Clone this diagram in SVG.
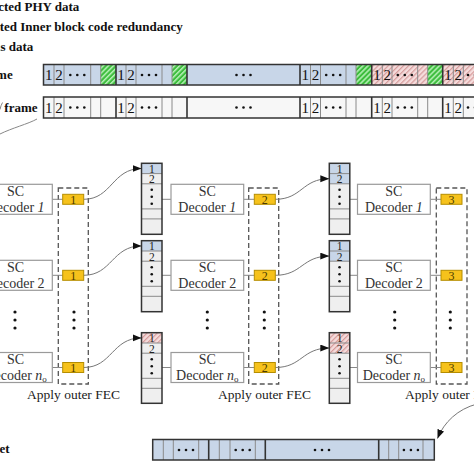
<svg xmlns="http://www.w3.org/2000/svg" width="474" height="474" viewBox="0 0 474 474">
<defs>
<pattern id="hg" patternUnits="userSpaceOnUse" width="3.6" height="3.6" patternTransform="rotate(45)"><rect width="3.6" height="3.6" fill="#3cbd3c"/><rect width="1.5" height="3.6" fill="#b8f0b8"/></pattern>
<pattern id="hr" patternUnits="userSpaceOnUse" width="3.6" height="3.6" patternTransform="rotate(45)"><rect width="3.6" height="3.6" fill="#f5dcdc"/><rect width="1.2" height="3.6" fill="#d69c9c"/></pattern>
<marker id="ah" markerUnits="userSpaceOnUse" markerWidth="10" markerHeight="8" refX="9" refY="3.5" orient="auto"><path d="M0,0 L9,3.5 L0,7 z" fill="#111"/></marker>
<style>
.lg{font-family:"Liberation Serif",serif;font-weight:bold;font-size:13px;fill:#111}
.num{font-family:"Liberation Serif",serif;font-size:15px;fill:#111;text-anchor:middle}
.bn{font-family:"Liberation Serif",serif;font-size:11.5px;fill:#222;text-anchor:middle}
.dec{font-family:"Liberation Serif",serif;font-size:14px;fill:#333;text-anchor:middle}
.fec{font-family:"Liberation Serif",serif;font-size:13.5px;fill:#222;text-anchor:middle}
.yn{font-family:"Liberation Serif",serif;font-size:12px;fill:#4a3a00;text-anchor:middle}
.blue{fill:#c8d6e8}
.light{fill:#f7f7f7}
.cell{fill:#efefef}
.thin{stroke:#8a8a8a;stroke-width:1}
.thick{stroke:#333;stroke-width:1.6}
.border{fill:none;stroke:#333;stroke-width:1.5}
.box{fill:#fff;stroke:#9a9a9a;stroke-width:1.2}
.yb{fill:#f6c21c;stroke:#b58d00;stroke-width:1}
.dash{fill:none;stroke:#555;stroke-width:1.3;stroke-dasharray:5,3}
.conn{fill:none;stroke:#888;stroke-width:1}
.arr{fill:none;stroke:#777;stroke-width:1;marker-end:url(#ah)}
.dot{fill:#111}
</style>
</defs>

<g id="legend">
<text class="lg" x="79.3" y="11" text-anchor="end">cted PHY data</text>
<text class="lg" x="182.7" y="31" text-anchor="end">cted Inner block code redundancy</text>
<text class="lg" x="33.3" y="51" text-anchor="end">us data</text>
</g>

<g id="labels">
<text class="lg" x="12.7" y="79" text-anchor="end">me</text>
<text class="lg" x="37.5" y="111.5" text-anchor="end">frame</text>
<text class="lg" x="9.5" y="453" text-anchor="end">et</text>
</g>

<g id="top-bar">
<rect class="blue" x="43.5" y="64.5" width="440" height="20.5"/>
<rect fill="url(#hg)" x="100.7" y="64.5" width="15.3" height="20.5"/>
<rect fill="url(#hg)" x="172" y="64.5" width="15" height="20.5"/>
<rect fill="url(#hg)" x="356" y="64.5" width="15.7" height="20.5"/>
<rect fill="url(#hr)" x="371.7" y="64.5" width="56" height="20.5"/>
<rect fill="url(#hg)" x="427.7" y="64.5" width="15" height="20.5"/>
<rect fill="url(#hr)" x="442.7" y="64.5" width="41" height="20.5"/>
<g class="thin">
<line x1="54" y1="64.5" x2="54" y2="85"/><line x1="64" y1="64.5" x2="64" y2="85"/><line x1="90.7" y1="64.5" x2="90.7" y2="85"/><line x1="100.7" y1="64.5" x2="100.7" y2="85"/>
<line x1="126" y1="64.5" x2="126" y2="85"/><line x1="136" y1="64.5" x2="136" y2="85"/><line x1="162" y1="64.5" x2="162" y2="85"/><line x1="172" y1="64.5" x2="172" y2="85"/>
<line x1="310.5" y1="64.5" x2="310.5" y2="85"/><line x1="320.5" y1="64.5" x2="320.5" y2="85"/><line x1="346" y1="64.5" x2="346" y2="85"/><line x1="356" y1="64.5" x2="356" y2="85"/>
<line x1="382.3" y1="64.5" x2="382.3" y2="85"/><line x1="392" y1="64.5" x2="392" y2="85"/><line x1="417.7" y1="64.5" x2="417.7" y2="85"/><line x1="427.7" y1="64.5" x2="427.7" y2="85"/>
<line x1="453.3" y1="64.5" x2="453.3" y2="85"/><line x1="463.3" y1="64.5" x2="463.3" y2="85"/>
</g>
<g class="thick">
<line x1="116" y1="64.5" x2="116" y2="85"/><line x1="187" y1="64.5" x2="187" y2="85"/><line x1="300" y1="64.5" x2="300" y2="85"/><line x1="371.7" y1="64.5" x2="371.7" y2="85"/><line x1="442.7" y1="64.5" x2="442.7" y2="85"/>
</g>
<rect class="border" x="43.5" y="64.5" width="440" height="20.5"/>
<text class="num" x="48.8" y="80">1</text><text class="num" x="59" y="80">2</text>
<text class="num" x="121" y="80">1</text><text class="num" x="131" y="80">2</text>
<text class="num" x="305.3" y="80">1</text><text class="num" x="315.5" y="80">2</text>
<text class="num" x="377" y="80">1</text><text class="num" x="387.2" y="80">2</text>
<text class="num" x="448" y="80">1</text><text class="num" x="458.3" y="80">2</text>
<g class="dot">
<circle cx="70.3" cy="75" r="1.3"/><circle cx="77.3" cy="75" r="1.3"/><circle cx="84.3" cy="75" r="1.3"/>
<circle cx="142" cy="75" r="1.3"/><circle cx="149" cy="75" r="1.3"/><circle cx="156" cy="75" r="1.3"/>
<circle cx="236.5" cy="75" r="1.3"/><circle cx="243.5" cy="75" r="1.3"/><circle cx="250.5" cy="75" r="1.3"/>
<circle cx="326.2" cy="75" r="1.3"/><circle cx="333.2" cy="75" r="1.3"/><circle cx="340.2" cy="75" r="1.3"/>
<circle cx="397.8" cy="75" r="1.3"/><circle cx="404.8" cy="75" r="1.3"/><circle cx="411.8" cy="75" r="1.3"/>
<circle cx="468" cy="75" r="1.3"/><circle cx="475" cy="75" r="1.3"/>
</g>
</g>

<g id="second-bar">
<rect class="light" x="43.5" y="97" width="440" height="21"/>
<g class="thin">
<line x1="54" y1="97" x2="54" y2="118"/><line x1="64" y1="97" x2="64" y2="118"/><line x1="90.7" y1="97" x2="90.7" y2="118"/><line x1="100.7" y1="97" x2="100.7" y2="118"/>
<line x1="126" y1="97" x2="126" y2="118"/><line x1="136" y1="97" x2="136" y2="118"/><line x1="162" y1="97" x2="162" y2="118"/><line x1="172" y1="97" x2="172" y2="118"/>
<line x1="310.5" y1="97" x2="310.5" y2="118"/><line x1="320.5" y1="97" x2="320.5" y2="118"/><line x1="346" y1="97" x2="346" y2="118"/><line x1="356" y1="97" x2="356" y2="118"/>
<line x1="382.3" y1="97" x2="382.3" y2="118"/><line x1="392" y1="97" x2="392" y2="118"/><line x1="417.7" y1="97" x2="417.7" y2="118"/><line x1="427.7" y1="97" x2="427.7" y2="118"/>
<line x1="453.3" y1="97" x2="453.3" y2="118"/><line x1="463.3" y1="97" x2="463.3" y2="118"/>
</g>
<g class="thick">
<line x1="116" y1="97" x2="116" y2="118"/><line x1="187" y1="97" x2="187" y2="118"/><line x1="300" y1="97" x2="300" y2="118"/><line x1="371.7" y1="97" x2="371.7" y2="118"/><line x1="442.7" y1="97" x2="442.7" y2="118"/>
</g>
<rect class="border" x="43.5" y="97" width="440" height="21"/>
<text class="num" x="48.8" y="112.8">1</text><text class="num" x="59" y="112.8">2</text>
<text class="num" x="121" y="112.8">1</text><text class="num" x="131" y="112.8">2</text>
<text class="num" x="305.3" y="112.8">1</text><text class="num" x="315.5" y="112.8">2</text>
<text class="num" x="377" y="112.8">1</text><text class="num" x="387.2" y="112.8">2</text>
<text class="num" x="448" y="112.8">1</text><text class="num" x="458.3" y="112.8">2</text>
<g class="dot">
<circle cx="70.3" cy="107.5" r="1.3"/><circle cx="77.3" cy="107.5" r="1.3"/><circle cx="84.3" cy="107.5" r="1.3"/>
<circle cx="142" cy="107.5" r="1.3"/><circle cx="149" cy="107.5" r="1.3"/><circle cx="156" cy="107.5" r="1.3"/>
<circle cx="236.5" cy="107.5" r="1.3"/><circle cx="243.5" cy="107.5" r="1.3"/><circle cx="250.5" cy="107.5" r="1.3"/>
<circle cx="326.2" cy="107.5" r="1.3"/><circle cx="333.2" cy="107.5" r="1.3"/><circle cx="340.2" cy="107.5" r="1.3"/>
<circle cx="397.8" cy="107.5" r="1.3"/><circle cx="404.8" cy="107.5" r="1.3"/><circle cx="411.8" cy="107.5" r="1.3"/>
<circle cx="468" cy="107.5" r="1.3"/><circle cx="475" cy="107.5" r="1.3"/>
</g>
</g>

<g id="dashed-columns">
<rect class="dash" x="58.3" y="188" width="30" height="196"/>
<rect class="dash" x="248.7" y="188" width="30" height="196"/>
<rect class="dash" x="436.3" y="188" width="30.7" height="196"/>
</g>

<g id="connectors">
<path class="conn" d="M37,119 C28,124 12,128 0,134"/>
<path class="conn" d="M2.5,102.5 Q0.8,105.5 0,109.5"/>
<line class="conn" x1="52.3" y1="199.3" x2="62.7" y2="199.3"/>
<line class="conn" x1="52.3" y1="275.3" x2="62.7" y2="275.3"/>
<line class="conn" x1="52.3" y1="367.5" x2="62.7" y2="367.5"/>
<line class="conn" x1="243.7" y1="199.3" x2="254.3" y2="199.3"/>
<line class="conn" x1="243.7" y1="275.3" x2="254.3" y2="275.3"/>
<line class="conn" x1="243.7" y1="367.5" x2="254.3" y2="367.5"/>
<line class="conn" x1="430.3" y1="199.3" x2="441" y2="199.3"/>
<line class="conn" x1="430.3" y1="275.3" x2="441" y2="275.3"/>
<line class="conn" x1="430.3" y1="367.5" x2="441" y2="367.5"/>
<line class="conn" x1="162" y1="199.3" x2="171" y2="199.3"/>
<line class="conn" x1="162" y1="275.3" x2="171" y2="275.3"/>
<line class="conn" x1="162" y1="367.5" x2="171" y2="367.5"/>
<line class="conn" x1="349.8" y1="199.3" x2="357.5" y2="199.3"/>
<line class="conn" x1="349.8" y1="275.3" x2="357.5" y2="275.3"/>
<line class="conn" x1="349.8" y1="367.5" x2="357.5" y2="367.5"/>
<path class="arr" d="M83.7,199.3 C112,199.3 112,168.5 141.5,168.5"/>
<path class="arr" d="M83.7,275.3 C112,275.3 112,245.9 141.5,245.9"/>
<path class="arr" d="M83.7,367.5 C112,367.5 112,337.9 141.5,337.9"/>
<path class="arr" d="M275.3,199.3 C302,199.3 302,178.7 329.3,178.7"/>
<path class="arr" d="M275.3,275.3 C302,275.3 302,256.1 329.3,256.1"/>
<path class="arr" d="M275.3,367.5 C302,367.5 302,348 329.3,348"/>
<path class="arr" d="M477,404 C458,409 444,422 437.5,438.5"/>
</g>

<g id="decoders-col1">
<rect class="box" x="-21" y="184.3" width="73.3" height="30"/>
<text class="dec" x="15.6" y="195.8">SC</text><text class="dec" x="15.6" y="211.6">Decoder <tspan font-style="italic">1</tspan></text>
<rect class="box" x="-21" y="260.3" width="73.3" height="30"/>
<text class="dec" x="15.6" y="271.8">SC</text><text class="dec" x="15.6" y="287.6">Decoder 2</text>
<rect class="box" x="-21" y="352.5" width="73.3" height="30"/>
<text class="dec" x="15.6" y="364">SC</text><text class="dec" x="15.6" y="379.8">Decoder <tspan font-style="italic">n</tspan><tspan font-size="9" dy="2.5">o</tspan></text>
</g>
<g id="decoders-col2">
<rect class="box" x="171" y="184.3" width="72.7" height="30"/>
<text class="dec" x="207.3" y="195.8">SC</text><text class="dec" x="207.3" y="211.6">Decoder <tspan font-style="italic">1</tspan></text>
<rect class="box" x="171" y="260.3" width="72.7" height="30"/>
<text class="dec" x="207.3" y="271.8">SC</text><text class="dec" x="207.3" y="287.6">Decoder 2</text>
<rect class="box" x="171" y="352.5" width="72.7" height="30"/>
<text class="dec" x="207.3" y="364">SC</text><text class="dec" x="207.3" y="379.8">Decoder <tspan font-style="italic">n</tspan><tspan font-size="9" dy="2.5">o</tspan></text>
</g>
<g id="decoders-col3">
<rect class="box" x="357.5" y="184.3" width="72.8" height="30"/>
<text class="dec" x="393.9" y="195.8">SC</text><text class="dec" x="393.9" y="211.6">Decoder <tspan font-style="italic">1</tspan></text>
<rect class="box" x="357.5" y="260.3" width="72.8" height="30"/>
<text class="dec" x="393.9" y="271.8">SC</text><text class="dec" x="393.9" y="287.6">Decoder 2</text>
<rect class="box" x="357.5" y="352.5" width="72.8" height="30"/>
<text class="dec" x="393.9" y="364">SC</text><text class="dec" x="393.9" y="379.8">Decoder <tspan font-style="italic">n</tspan><tspan font-size="9" dy="2.5">o</tspan></text>
</g>

<g id="fec-blocks">
<rect class="yb" x="62.7" y="194.3" width="21" height="10"/><text class="yn" x="73.2" y="203.6">1</text>
<rect class="yb" x="62.7" y="270.3" width="21" height="10"/><text class="yn" x="73.2" y="279.6">1</text>
<rect class="yb" x="62.7" y="362.5" width="21" height="10"/><text class="yn" x="73.2" y="371.8">1</text>
<rect class="yb" x="254.3" y="194.3" width="21" height="10"/><text class="yn" x="264.8" y="203.6">2</text>
<rect class="yb" x="254.3" y="270.3" width="21" height="10"/><text class="yn" x="264.8" y="279.6">2</text>
<rect class="yb" x="254.3" y="362.5" width="21" height="10"/><text class="yn" x="264.8" y="371.8">2</text>
<rect class="yb" x="441" y="194.3" width="21" height="10"/><text class="yn" x="451.5" y="203.6">3</text>
<rect class="yb" x="441" y="270.3" width="21" height="10"/><text class="yn" x="451.5" y="279.6">3</text>
<rect class="yb" x="441" y="362.5" width="21" height="10"/><text class="yn" x="451.5" y="371.8">3</text>
</g>

<g id="buffers-col1">
<g transform="translate(141.5,163.3)">
<rect class="cell" width="20.5" height="71"/><rect class="blue" width="20.5" height="10.3"/>
<g class="thin"><line x1="0" y1="10.3" x2="20.5" y2="10.3"/><line x1="0" y1="20.5" x2="20.5" y2="20.5"/><line x1="0" y1="45.6" x2="20.5" y2="45.6"/><line x1="0" y1="55.6" x2="20.5" y2="55.6"/></g>
<rect class="border" width="20.5" height="71"/>
<text class="bn" x="10.25" y="9.6">1</text><text class="bn" x="10.25" y="19.9">2</text>
<g class="dot"><circle cx="10.25" cy="26.5" r="1.3"/><circle cx="10.25" cy="33.5" r="1.3"/><circle cx="10.25" cy="40.5" r="1.3"/></g>
</g>
<g transform="translate(141.5,240.7)">
<rect class="cell" width="20.5" height="71"/><rect class="blue" width="20.5" height="10.3"/>
<g class="thin"><line x1="0" y1="10.3" x2="20.5" y2="10.3"/><line x1="0" y1="20.5" x2="20.5" y2="20.5"/><line x1="0" y1="45.6" x2="20.5" y2="45.6"/><line x1="0" y1="55.6" x2="20.5" y2="55.6"/></g>
<rect class="border" width="20.5" height="71"/>
<text class="bn" x="10.25" y="9.6">1</text><text class="bn" x="10.25" y="19.9">2</text>
<g class="dot"><circle cx="10.25" cy="26.5" r="1.3"/><circle cx="10.25" cy="33.5" r="1.3"/><circle cx="10.25" cy="40.5" r="1.3"/></g>
</g>
<g transform="translate(141.5,332.7)">
<rect class="cell" width="20.5" height="70.6"/><rect fill="url(#hr)" width="20.5" height="10.3"/>
<g class="thin"><line x1="0" y1="10.3" x2="20.5" y2="10.3"/><line x1="0" y1="20.5" x2="20.5" y2="20.5"/><line x1="0" y1="45.6" x2="20.5" y2="45.6"/><line x1="0" y1="55.6" x2="20.5" y2="55.6"/></g>
<rect class="border" width="20.5" height="70.6"/>
<text class="bn" x="10.25" y="9.6">1</text><text class="bn" x="10.25" y="19.9">2</text>
<g class="dot"><circle cx="10.25" cy="26.5" r="1.3"/><circle cx="10.25" cy="33.5" r="1.3"/><circle cx="10.25" cy="40.5" r="1.3"/></g>
</g>
</g>

<g id="buffers-col2">
<g transform="translate(329.3,163.3)">
<rect class="cell" width="20.5" height="71"/><rect class="blue" width="20.5" height="20.5"/>
<g class="thin"><line x1="0" y1="10.3" x2="20.5" y2="10.3"/><line x1="0" y1="20.5" x2="20.5" y2="20.5"/><line x1="0" y1="45.6" x2="20.5" y2="45.6"/><line x1="0" y1="55.6" x2="20.5" y2="55.6"/></g>
<rect class="border" width="20.5" height="71"/>
<text class="bn" x="10.25" y="9.6">1</text><text class="bn" x="10.25" y="19.9">2</text>
<g class="dot"><circle cx="10.25" cy="26.5" r="1.3"/><circle cx="10.25" cy="33.5" r="1.3"/><circle cx="10.25" cy="40.5" r="1.3"/></g>
</g>
<g transform="translate(329.3,240.7)">
<rect class="cell" width="20.5" height="71"/><rect class="blue" width="20.5" height="20.5"/>
<g class="thin"><line x1="0" y1="10.3" x2="20.5" y2="10.3"/><line x1="0" y1="20.5" x2="20.5" y2="20.5"/><line x1="0" y1="45.6" x2="20.5" y2="45.6"/><line x1="0" y1="55.6" x2="20.5" y2="55.6"/></g>
<rect class="border" width="20.5" height="71"/>
<text class="bn" x="10.25" y="9.6">1</text><text class="bn" x="10.25" y="19.9">2</text>
<g class="dot"><circle cx="10.25" cy="26.5" r="1.3"/><circle cx="10.25" cy="33.5" r="1.3"/><circle cx="10.25" cy="40.5" r="1.3"/></g>
</g>
<g transform="translate(329.3,332.7)">
<rect class="cell" width="20.5" height="70.6"/><rect fill="url(#hr)" width="20.5" height="20.5"/>
<g class="thin"><line x1="0" y1="10.3" x2="20.5" y2="10.3"/><line x1="0" y1="20.5" x2="20.5" y2="20.5"/><line x1="0" y1="45.6" x2="20.5" y2="45.6"/><line x1="0" y1="55.6" x2="20.5" y2="55.6"/></g>
<rect class="border" width="20.5" height="70.6"/>
<text class="bn" x="10.25" y="9.6">1</text><text class="bn" x="10.25" y="19.9">2</text>
<g class="dot"><circle cx="10.25" cy="26.5" r="1.3"/><circle cx="10.25" cy="33.5" r="1.3"/><circle cx="10.25" cy="40.5" r="1.3"/></g>
</g>
</g>

<g id="vertical-dots" class="dot">
<circle cx="15" cy="312" r="1.6"/><circle cx="15" cy="320" r="1.6"/><circle cx="15" cy="328" r="1.6"/>
<circle cx="74" cy="312" r="1.6"/><circle cx="74" cy="320" r="1.6"/><circle cx="74" cy="328" r="1.6"/>
<circle cx="207.3" cy="312" r="1.6"/><circle cx="207.3" cy="320" r="1.6"/><circle cx="207.3" cy="328" r="1.6"/>
<circle cx="264.3" cy="312" r="1.6"/><circle cx="264.3" cy="320" r="1.6"/><circle cx="264.3" cy="328" r="1.6"/>
<circle cx="394.7" cy="312" r="1.6"/><circle cx="394.7" cy="320" r="1.6"/><circle cx="394.7" cy="328" r="1.6"/>
<circle cx="450.3" cy="312" r="1.6"/><circle cx="450.3" cy="320" r="1.6"/><circle cx="450.3" cy="328" r="1.6"/>
</g>

<g id="fec-labels">
<text class="fec" x="73.5" y="399">Apply outer FEC</text>
<text class="fec" x="264.5" y="399">Apply outer FEC</text>
<text class="fec" x="451.5" y="398.5">Apply outer FEC</text>
</g>

<g id="output-bar">
<rect class="blue" x="152.7" y="439.5" width="281.6" height="20.5"/>
<g class="thin">
<line x1="163.3" y1="439.5" x2="163.3" y2="460"/><line x1="173.3" y1="439.5" x2="173.3" y2="460"/><line x1="198.7" y1="439.5" x2="198.7" y2="460"/>
<line x1="219.3" y1="439.5" x2="219.3" y2="460"/><line x1="230" y1="439.5" x2="230" y2="460"/><line x1="255.3" y1="439.5" x2="255.3" y2="460"/>
<line x1="388.7" y1="439.5" x2="388.7" y2="460"/><line x1="398.7" y1="439.5" x2="398.7" y2="460"/><line x1="423" y1="439.5" x2="423" y2="460"/>
</g>
<g class="thick">
<line x1="208.7" y1="439.5" x2="208.7" y2="460"/><line x1="265.3" y1="439.5" x2="265.3" y2="460"/><line x1="378.7" y1="439.5" x2="378.7" y2="460"/>
</g>
<rect class="border" x="152.7" y="439.5" width="281.6" height="20.5"/>
<g class="dot">
<circle cx="179" cy="450" r="1.3"/><circle cx="186" cy="450" r="1.3"/><circle cx="193" cy="450" r="1.3"/>
<circle cx="235.7" cy="450" r="1.3"/><circle cx="242.7" cy="450" r="1.3"/><circle cx="249.7" cy="450" r="1.3"/>
<circle cx="315" cy="450" r="1.3"/><circle cx="322" cy="450" r="1.3"/><circle cx="329" cy="450" r="1.3"/>
<circle cx="403.9" cy="450" r="1.3"/><circle cx="410.9" cy="450" r="1.3"/><circle cx="417.9" cy="450" r="1.3"/>
</g>
</g>
</svg>
